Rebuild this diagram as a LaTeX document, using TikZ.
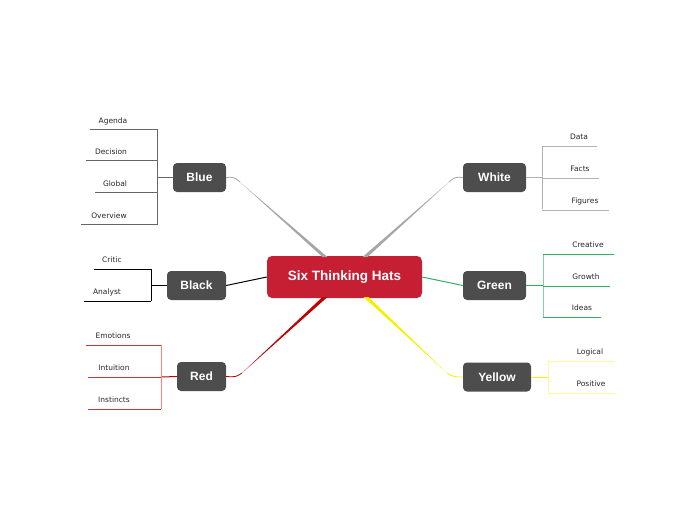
\documentclass[tikz,border=0pt]{standalone}
\usepackage{fontspec}
\setmainfont{Liberation Sans}
\newfontfamily\leaffont{DejaVu Sans}
\begin{document}
\begin{tikzpicture}[x=1pt,y=-1pt,
  hat/.style={fill=hatgray,rounded corners=4pt,text=white,font=\bfseries\fontsize{12}{14}\selectfont,inner sep=0pt,minimum height=29pt},
  leaf/.style={font=\leaffont\fontsize{7.5}{9}\selectfont,inner sep=0pt,text=black!85}]
\definecolor{hatgray}{HTML}{4D4D4D}
\definecolor{core}{HTML}{C61F33}
\definecolor{hred}{HTML}{C00000}
\definecolor{hgreen}{HTML}{2EB260}
\definecolor{hyellow}{HTML}{F5F000}
\useasboundingbox (0,0) rectangle (697,520);
% central
\node[fill=core,rounded corners=5pt,text=white,font=\bfseries\fontsize{13.5}{16}\selectfont,minimum width=155pt,minimum height=42pt,inner sep=0pt] (c) at (344.5,277) {Six Thinking Hats};
% hats
\node[hat,minimum width=53pt] (blue) at (199.5,177.5) {Blue};
\node[hat,minimum width=59pt] (black) at (196.5,285.5) {Black};
\node[hat,minimum width=49pt] (red) at (201.5,376.5) {Red};
\node[hat,minimum width=63pt] (white) at (494.5,177.5) {White};
\node[hat,minimum width=63pt] (green) at (494.5,285.5) {Green};
\node[hat,minimum width=68pt] (yellow) at (497,377) {Yellow};
% branch anchors
\coordinate (sb) at (325,257); \coordinate (bb) at (240,182);
\coordinate (sw) at (365,257); \coordinate (bw) at (449,182);
\coordinate (sr) at (325,297); \coordinate (br) at (242,373);
\coordinate (sy) at (366,297); \coordinate (by) at (447,373);
\fill[gray!70] ([xshift=-2.5pt]sb) -- ([xshift=2.5pt]sb) -- (bb) -- cycle;
\draw[gray!70,line width=0.8pt] (bb) .. controls (234,177) .. (blue.east);
\fill[gray!70] ([xshift=-2.5pt]sw) -- ([xshift=2.5pt]sw) -- (bw) -- cycle;
\draw[gray!70,line width=0.8pt] (bw) .. controls (455,177) .. (white.west);
\fill[hred] ([xshift=-2.5pt]sr) -- ([xshift=2.5pt]sr) -- (br) -- cycle;
\draw[hred,line width=0.8pt] (br) .. controls (236,377) .. (red.east);
\fill[hyellow] ([xshift=-2.5pt]sy) -- ([xshift=2.5pt]sy) -- (by) -- cycle;
\draw[hyellow,line width=0.8pt] (by) .. controls (454,377) .. (yellow.west);
\draw[black,line width=1pt] (c.west) -- (black.east);
\draw[hgreen,line width=1pt] (c.east) -- (green.west);
% Blue leaves
\draw[gray!80!black,line width=1pt] (blue.west) -- (157,177.5);
\draw[gray!80!black,line width=0.8pt] (157,129) -- (157,225);
\foreach \t/\x/\y/\l in {Agenda/113/121/90, Decision/111/152/86, Global/115/184/95, Overview/109/216/81}{
  \node[leaf] (b\t) at (\x,\y) {\t};
  \draw[gray!80!black,line width=0.8pt] (\l,\y+8) -- (157,\y+8);}
% Black leaves
\draw[black,line width=1pt] (black.west) -- (151,285.5);
\draw[black,line width=0.8pt] (151,269) -- (151,301);
\foreach \t/\x/\y/\l in {Critic/112/260/94, Analyst/107/292/84}{
  \node[leaf] (k\t) at (\x,\y) {\t};
  \draw[black,line width=0.8pt] (\l,\y+9) -- (151,\y+9);}
% Red leaves
\draw[hred,line width=1pt] (red.west) -- (161,377);
\draw[red!50!white,line width=0.8pt] (161,345) -- (161,409);
\foreach \t/\x/\y/\l in {Emotions/113/336/86, Intuition/114/368/88, Instincts/114/400/88}{
  \node[leaf] (r\t) at (\x,\y) {\t};
  \draw[hred!80,line width=0.8pt] (\l,\y+9) -- (161,\y+9);}
% White leaves
\draw[gray!60,line width=1pt] (white.east) -- (542,177.5);
\draw[gray!60,line width=0.8pt] (542,146) -- (542,209);
\foreach \t/\x/\y/\r in {Data/579/137/597, Facts/580/169/599, Figures/585/201/609}{
  \node[leaf] (w\t) at (\x,\y) {\t};
  \draw[gray!60,line width=0.8pt] (542,\y+9) -- (\r,\y+9);}
% Green leaves
\draw[hgreen,line width=1pt] (green.east) -- (543,285.5);
\draw[hgreen!60,line width=0.8pt] (543,254) -- (543,317);
\foreach \t/\x/\y/\r in {Creative/588/245/614, Growth/586/277/610, Ideas/582/308/601}{
  \node[leaf] (g\t) at (\x,\y) {\t};
  \draw[hgreen,line width=0.8pt] (543,\y+9) -- (\r,\y+9);}
% Yellow leaves
\draw[hyellow,line width=1pt] (yellow.east) -- (548,377);
\draw[hyellow!40!white,line width=0.8pt] (548,361) -- (548,393);
\foreach \t/\x/\y/\r in {Logical/590/352/614, Positive/591/384/616}{
  \node[leaf] (y\t) at (\x,\y) {\t};
  \draw[hyellow!40!white,line width=0.8pt] (548,\y+9) -- (\r,\y+9);}
\end{tikzpicture}
\end{document}
